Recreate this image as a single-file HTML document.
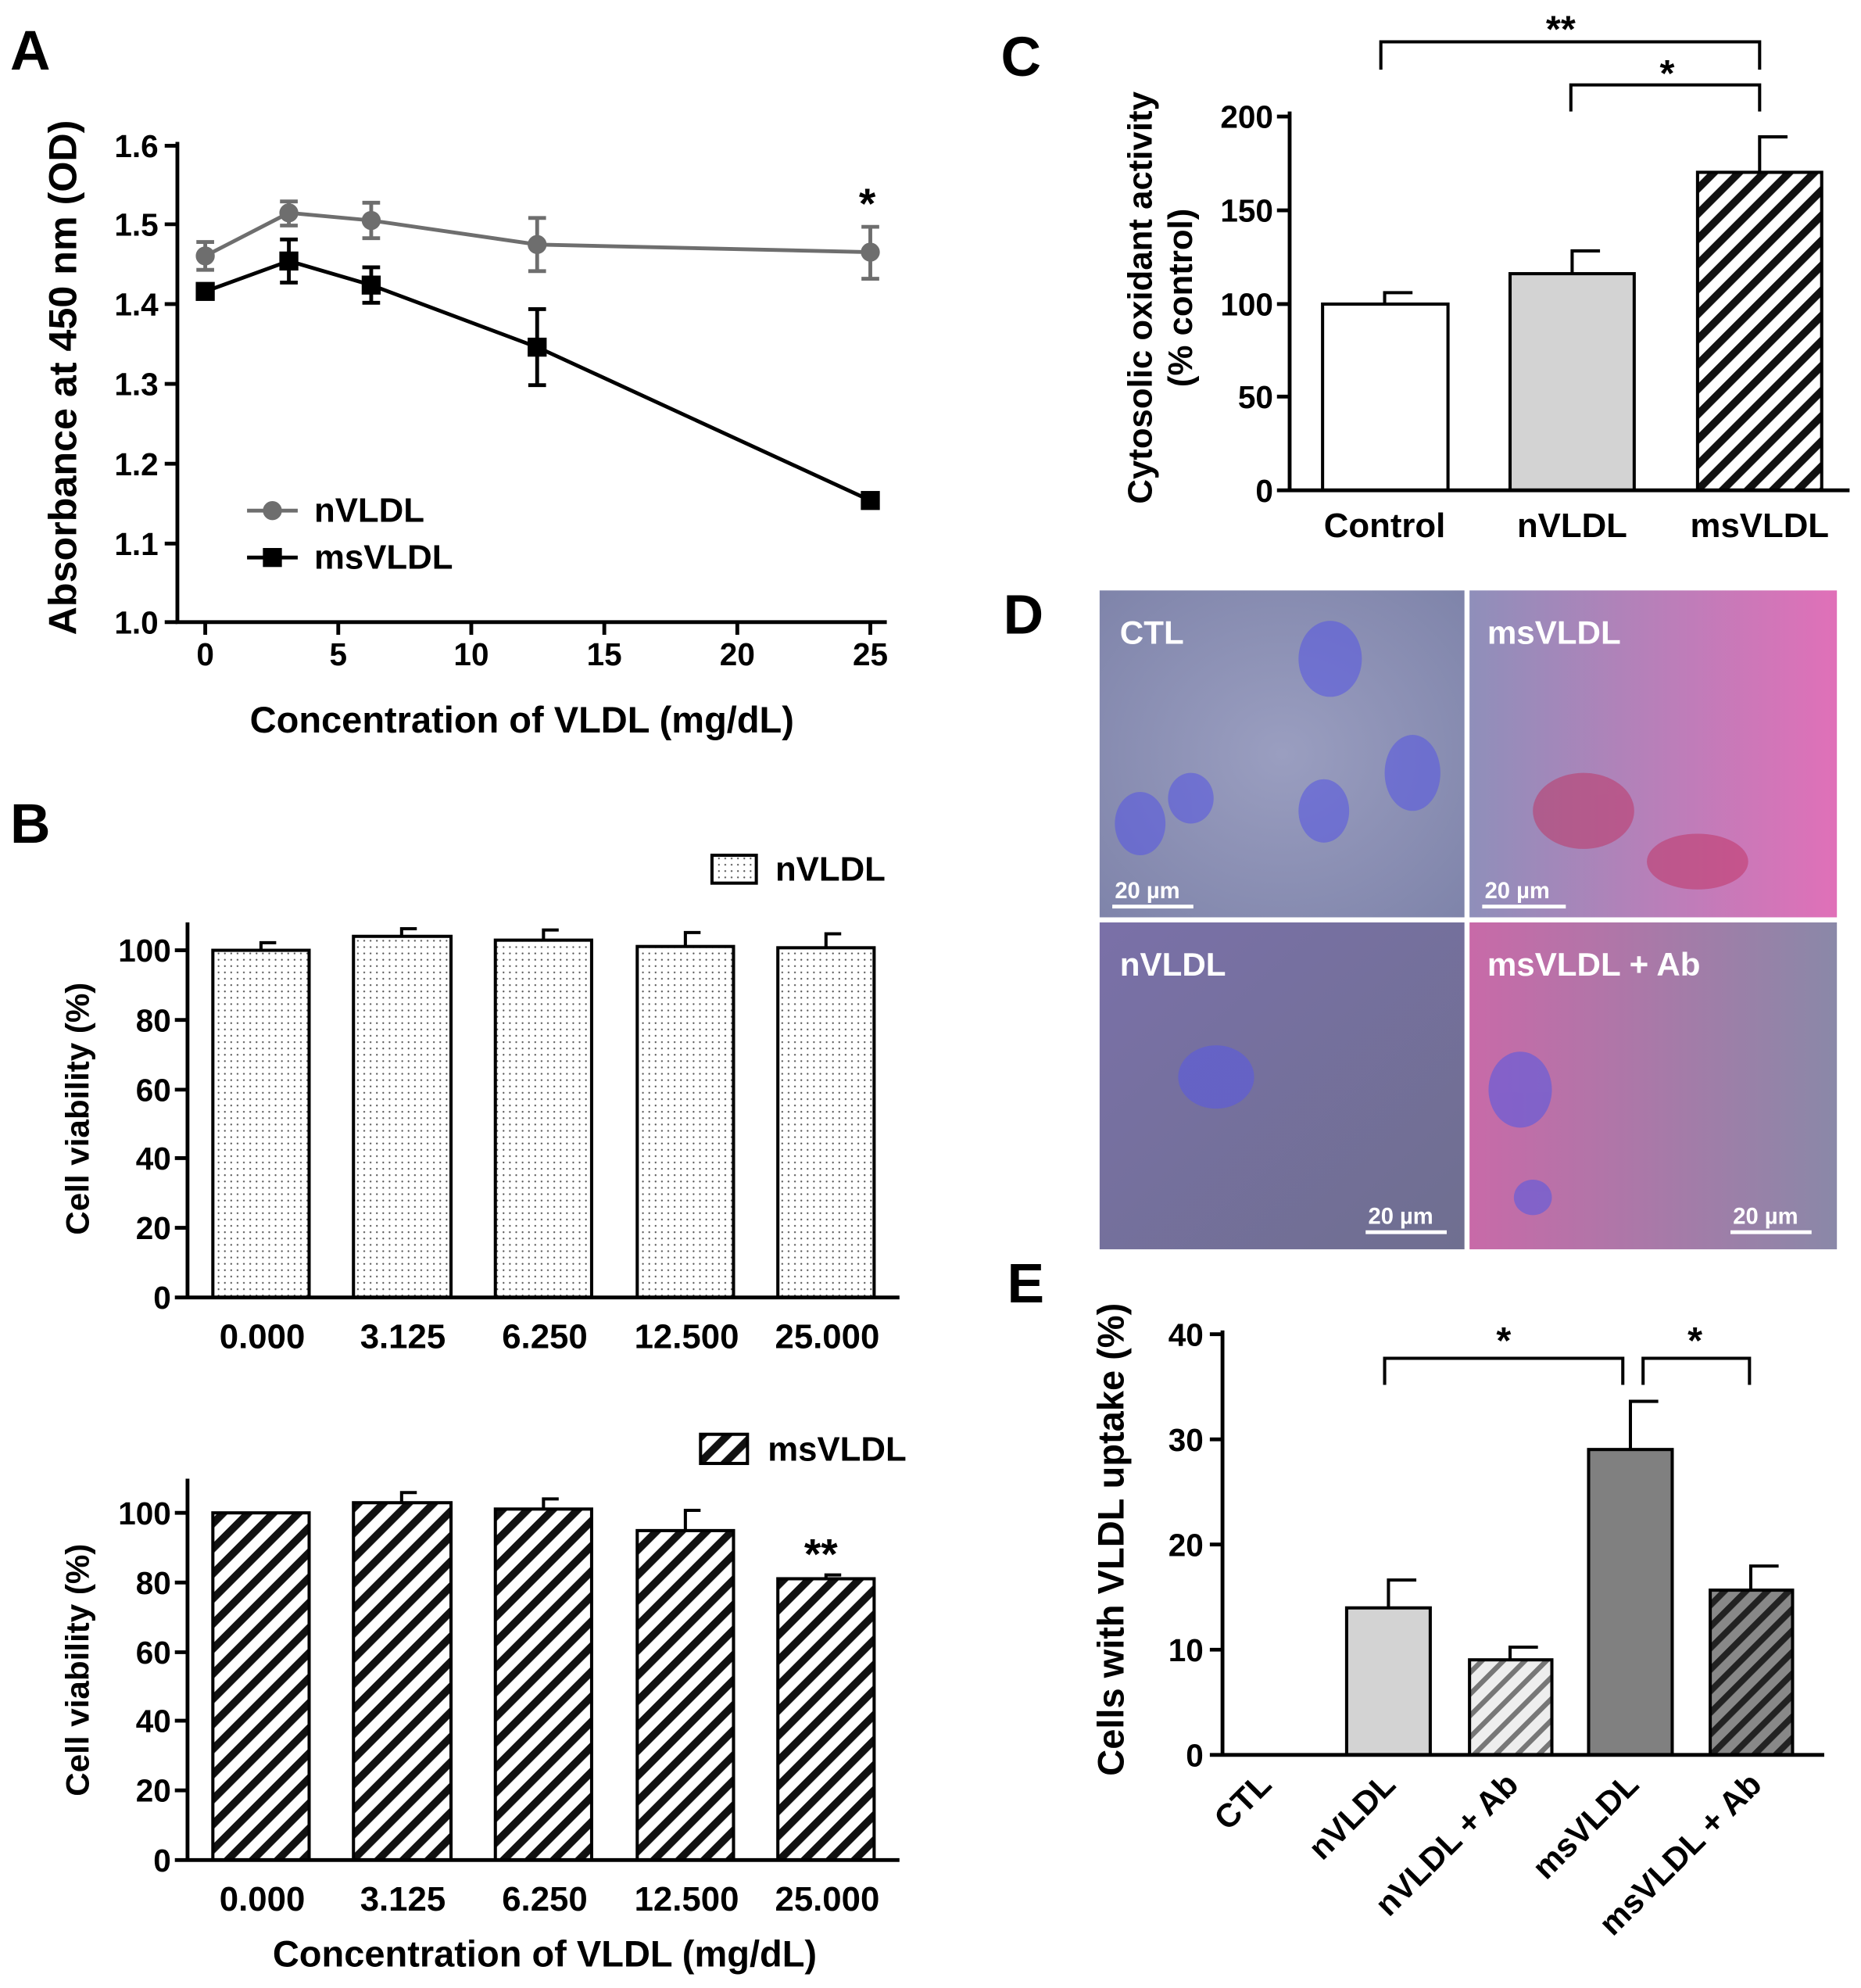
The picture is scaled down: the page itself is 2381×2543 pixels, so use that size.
<!DOCTYPE html>
<html><head><meta charset="utf-8"><style>html,body{margin:0;padding:0;background:#fff}svg{display:block}</style></head>
<body>
<svg width="2381" height="2543" viewBox="0 0 1469 1569" xmlns="http://www.w3.org/2000/svg" font-family="Liberation Sans, Arial, sans-serif" font-weight="bold">
<defs>
<pattern id="dots" width="5" height="5" patternUnits="userSpaceOnUse"><rect width="5" height="5" fill="#fff"/><circle cx="2.5" cy="2.5" r="0.7" fill="#555"/></pattern>
<pattern id="hatch" width="14" height="14" patternUnits="userSpaceOnUse" patternTransform="rotate(45)"><rect width="14" height="14" fill="#fff"/><rect x="0" y="0" width="6" height="14" fill="#111"/></pattern>
<pattern id="hatchL" width="12" height="12" patternUnits="userSpaceOnUse" patternTransform="rotate(45)"><rect width="12" height="12" fill="#eee"/><rect x="0" y="0" width="4" height="12" fill="#777"/></pattern>
<pattern id="hatchD" width="12" height="12" patternUnits="userSpaceOnUse" patternTransform="rotate(45)"><rect width="12" height="12" fill="#888"/><rect x="0" y="0" width="5" height="12" fill="#222"/></pattern>
<radialGradient id="g1" cx="0.5" cy="0.5" r="0.7"><stop offset="0" stop-color="#9a9ec0"/><stop offset="1" stop-color="#7f84aa"/></radialGradient>
<linearGradient id="g2" x1="0" y1="0" x2="1" y2="0"><stop offset="0" stop-color="#8f8fba"/><stop offset="1" stop-color="#e070b8"/></linearGradient>
<linearGradient id="g3" x1="0" y1="0" x2="1" y2="1"><stop offset="0" stop-color="#7a70a8"/><stop offset="1" stop-color="#6f6f90"/></linearGradient>
<linearGradient id="g4" x1="0" y1="0" x2="1" y2="0"><stop offset="0" stop-color="#c86aa8"/><stop offset="1" stop-color="#8a88a8"/></linearGradient>
</defs>
<g stroke="#000" stroke-width="3" fill="none">
<path d="M140,112V491H700"/>
<path d="M130,115h10M130,177h10M130,240h10M130,303h10M130,366h10M130,429h10M130,491h10"/>
<path d="M162,491v10M267,491v10M372,491v10M477,491v10M582,491v10M687,491v10"/>
</g>
<g font-size="25" text-anchor="end">
<text x="125" y="124">1.6</text><text x="125" y="186">1.5</text><text x="125" y="249">1.4</text><text x="125" y="312">1.3</text><text x="125" y="375">1.2</text><text x="125" y="438">1.1</text><text x="125" y="500">1.0</text>
</g>
<g font-size="25" text-anchor="middle">
<text x="162" y="525">0</text><text x="267" y="525">5</text><text x="372" y="525">10</text><text x="477" y="525">15</text><text x="582" y="525">20</text><text x="687" y="525">25</text>
<text x="412" y="578" font-size="29">Concentration of VLDL (mg/dL)</text>
<text transform="translate(60,298) rotate(-90)" font-size="31">Absorbance at 450 nm (OD)</text>
</g>
<text x="8" y="55" font-size="44">A</text>
<text x="678" y="172" font-size="34">*</text>
<g stroke="#6e6e6e" stroke-width="3" fill="#6e6e6e">
<polyline fill="none" points="162,202 228,168 293,174 424,193 687,199"/>
<path d="M162,191v22M155,191h14M155,213h14M228,159v19M221,159h14M221,178h14M293,160v28M286,160h14M286,188h14M424,172v42M417,172h14M417,214h14M687,179v41M680,179h14M680,220h14"/>
<circle cx="162" cy="202" r="6"/><circle cx="228" cy="168" r="6"/><circle cx="293" cy="174" r="6"/><circle cx="424" cy="193" r="6"/><circle cx="687" cy="199" r="6"/>
<line x1="195" y1="403" x2="235" y2="403"/><circle cx="215" cy="403" r="6"/>
</g>
<g stroke="#000" stroke-width="3" fill="#000">
<polyline fill="none" points="162,230 228,206 293,225 424,274 687,395"/>
<path d="M228,189v34M221,189h14M221,223h14M293,211v28M286,211h14M286,239h14M424,244v60M417,244h14M417,304h14"/>
<rect x="156" y="224" width="12" height="12"/><rect x="222" y="200" width="12" height="12"/><rect x="287" y="219" width="12" height="12"/><rect x="418" y="268" width="12" height="12"/><rect x="681" y="389" width="12" height="12"/>
<line x1="195" y1="440" x2="235" y2="440"/><rect x="209" y="434" width="12" height="12"/>
</g>
<text x="248" y="412" font-size="27">nVLDL</text><text x="248" y="449" font-size="27">msVLDL</text>

<text x="8" y="665" font-size="44">B</text>
<rect x="562" y="675" width="35" height="22" fill="url(#dots)" stroke="#000" stroke-width="2.5"/>
<text x="612" y="695" font-size="27">nVLDL</text>
<g stroke="#000" stroke-width="2.5">
<rect x="168" y="750" width="76" height="274" fill="url(#dots)"/>
<rect x="279" y="739" width="77" height="285" fill="url(#dots)"/>
<rect x="391" y="742" width="76" height="282" fill="url(#dots)"/>
<rect x="503" y="747" width="76" height="277" fill="url(#dots)"/>
<rect x="614" y="748" width="76" height="276" fill="url(#dots)"/>
<path fill="none" d="M206,750v-6h12M317,739v-6h12M429,742v-8h12M541,747v-11h12M652,748v-11h12"/>
<path fill="none" stroke-width="3" d="M148,728V1024H710M138,750h10M138,805h10M138,860h10M138,914h10M138,969h10M138,1024h10"/>
</g>
<g font-size="25" text-anchor="end"><text x="135" y="759">100</text><text x="135" y="814">80</text><text x="135" y="869">60</text><text x="135" y="923">40</text><text x="135" y="978">20</text><text x="135" y="1033">0</text></g>
<g font-size="27" text-anchor="middle"><text x="207" y="1064">0.000</text><text x="318" y="1064">3.125</text><text x="430" y="1064">6.250</text><text x="542" y="1064">12.500</text><text x="653" y="1064">25.000</text>
<text transform="translate(70,875) rotate(-90)" font-size="26">Cell viability (%)</text></g>

<rect x="553" y="1132" width="37" height="23" fill="url(#hatch)" stroke="#000" stroke-width="2.5"/>
<text x="606" y="1153" font-size="27">msVLDL</text>
<g stroke="#000" stroke-width="2.5">
<rect x="168" y="1194" width="76" height="274" fill="url(#hatch)"/>
<rect x="279" y="1186" width="77" height="282" fill="url(#hatch)"/>
<rect x="391" y="1191" width="76" height="277" fill="url(#hatch)"/>
<rect x="503" y="1208" width="76" height="260" fill="url(#hatch)"/>
<rect x="614" y="1246" width="76" height="222" fill="url(#hatch)"/>
<path fill="none" d="M317,1186v-8h12M429,1191v-8h12M541,1208v-16h12M652,1246v-3h12"/>
<path fill="none" stroke-width="3" d="M148,1167V1468H710M138,1194h10M138,1249h10M138,1304h10M138,1358h10M138,1413h10M138,1468h10"/>
</g>
<text x="648" y="1238" font-size="34" text-anchor="middle">**</text>
<g font-size="25" text-anchor="end"><text x="135" y="1203">100</text><text x="135" y="1258">80</text><text x="135" y="1313">60</text><text x="135" y="1367">40</text><text x="135" y="1422">20</text><text x="135" y="1477">0</text></g>
<g font-size="27" text-anchor="middle"><text x="207" y="1508">0.000</text><text x="318" y="1508">3.125</text><text x="430" y="1508">6.250</text><text x="542" y="1508">12.500</text><text x="653" y="1508">25.000</text>
<text x="430" y="1552" font-size="29">Concentration of VLDL (mg/dL)</text>
<text transform="translate(70,1318) rotate(-90)" font-size="26">Cell viability (%)</text></g>

<text x="790" y="60" font-size="44">C</text>
<g stroke="#000" stroke-width="2.5">
<rect x="1044" y="240" width="99" height="147" fill="#fff"/>
<rect x="1192" y="216" width="98" height="171" fill="#d3d3d3"/>
<rect x="1340" y="136" width="98" height="251" fill="url(#hatch)"/>
<path fill="none" d="M1093,240v-9h22M1241,216v-18h22M1389,136v-28h22"/>
<path fill="none" stroke-width="3" d="M1018,88V387H1460M1008,92h10M1008,166h10M1008,240h10M1008,313h10M1008,387h10"/>
<path fill="none" d="M1090,55V33H1389V55M1240,88V67H1389V88"/>
</g>
<text x="1232" y="33" font-size="30" text-anchor="middle">**</text>
<text x="1316" y="68" font-size="30" text-anchor="middle">*</text>
<g font-size="25" text-anchor="end"><text x="1005" y="101">200</text><text x="1005" y="175">150</text><text x="1005" y="249">100</text><text x="1005" y="322">50</text><text x="1005" y="396">0</text></g>
<g font-size="27" text-anchor="middle"><text x="1093" y="424">Control</text><text x="1241" y="424">nVLDL</text><text x="1389" y="424">msVLDL</text>
<text transform="translate(909,235) rotate(-90)" font-size="27">Cytosolic oxidant activity</text>
<text transform="translate(941,235) rotate(-90)" font-size="27">(% control)</text></g>

<text x="792" y="500" font-size="44">D</text>
<rect x="868" y="466" width="288" height="258" fill="url(#g1)"/>
<rect x="1160" y="466" width="290" height="258" fill="url(#g2)"/>
<rect x="868" y="728" width="288" height="258" fill="url(#g3)"/>
<rect x="1160" y="728" width="290" height="258" fill="url(#g4)"/>
<g fill="#5a5ae0" opacity="0.6"><ellipse cx="1050" cy="520" rx="25" ry="30"/><ellipse cx="1115" cy="610" rx="22" ry="30"/><ellipse cx="900" cy="650" rx="20" ry="25"/><ellipse cx="940" cy="630" rx="18" ry="20"/><ellipse cx="1045" cy="640" rx="20" ry="25"/><ellipse cx="960" cy="850" rx="30" ry="25"/><ellipse cx="1200" cy="860" rx="25" ry="30"/><ellipse cx="1210" cy="945" rx="15" ry="14"/></g>
<g fill="#c03060" opacity="0.5"><ellipse cx="1250" cy="640" rx="40" ry="30"/><ellipse cx="1340" cy="680" rx="40" ry="22"/></g>
<g fill="#fff" font-size="26"><text x="884" y="508">CTL</text><text x="1174" y="508">msVLDL</text><text x="884" y="770">nVLDL</text><text x="1174" y="770">msVLDL + Ab</text>
<text x="880" y="709" font-size="18">20 µm</text><rect x="878" y="714" width="64" height="3"/>
<text x="1172" y="709" font-size="18">20 µm</text><rect x="1170" y="714" width="66" height="3"/>
<text x="1080" y="966" font-size="18">20 µm</text><rect x="1078" y="971" width="64" height="3"/>
<text x="1368" y="966" font-size="18">20 µm</text><rect x="1366" y="971" width="64" height="3"/></g>

<text x="795" y="1028" font-size="44">E</text>
<g stroke="#000" stroke-width="2.5">
<rect x="1063" y="1269" width="66" height="116" fill="#d3d3d3"/>
<rect x="1160" y="1310" width="65" height="75" fill="url(#hatchL)"/>
<rect x="1254" y="1144" width="66" height="241" fill="#808080"/>
<rect x="1350" y="1255" width="65" height="130" fill="url(#hatchD)"/>
<path fill="none" d="M1096,1269v-22h22M1192,1310v-10h22M1287,1144v-38h22M1382,1255v-19h22"/>
<path fill="none" stroke-width="3" d="M965,1050V1385H1440M955,1053h10M955,1136h10M955,1219h10M955,1302h10M955,1385h10"/>
<path fill="none" d="M1093,1093V1072H1281V1093M1297,1093V1072H1381V1093"/>
</g>
<text x="1187" y="1068" font-size="30" text-anchor="middle">*</text>
<text x="1338" y="1068" font-size="30" text-anchor="middle">*</text>
<g font-size="25" text-anchor="end"><text x="950" y="1062">40</text><text x="950" y="1145">30</text><text x="950" y="1228">20</text><text x="950" y="1311">10</text><text x="950" y="1394">0</text></g>
<g font-size="26" text-anchor="end">
<text transform="translate(1005,1410) rotate(-45)">CTL</text>
<text transform="translate(1103,1410) rotate(-45)">nVLDL</text>
<text transform="translate(1200,1410) rotate(-45)">nVLDL + Ab</text>
<text transform="translate(1295,1410) rotate(-45)">msVLDL</text>
<text transform="translate(1392,1410) rotate(-45)">msVLDL + Ab</text>
</g>
<text transform="translate(887,1215) rotate(-90)" font-size="29" text-anchor="middle">Cells with VLDL uptake (%)</text>
</svg>
</body></html>
